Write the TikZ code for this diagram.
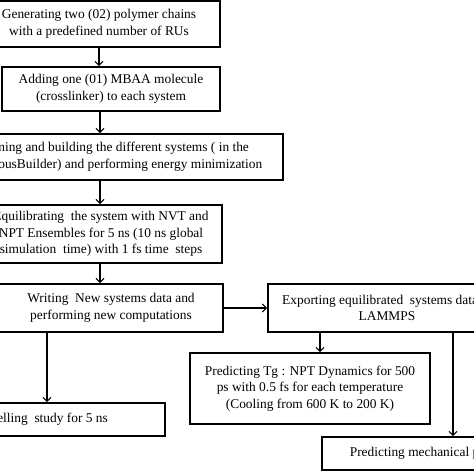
\documentclass[tikz,border=0pt]{standalone}
\usepackage{fontspec}
\setmainfont{Liberation Serif}
\usetikzlibrary{arrows.meta}

\tikzset{
	stepbox/.style={draw=black, line width=1.6pt, align=center, inner sep=0pt,
		font=\fontsize{13.4}{16.6}\selectfont},
	flow/.style={-{Straight Barb[length=4pt,width=8pt]}, line width=1.1pt},
}

\begin{document}
\begin{tikzpicture}[x=1pt,y=-1pt]
	
	\useasboundingbox (0,0) rectangle (474,474);
	\clip (0,0) rectangle (474,474);
	
	\node[stepbox, minimum width=242, minimum height=46] (gen)    at (99, 24)    {Generating two (02) polymer chains\\with a predefined number of RUs};
	\node[stepbox, minimum width=218, minimum height=44] (add)    at (111, 89)   {Adding one (01) MBAA molecule\\(crosslinker) to each system};
	\node[stepbox, minimum width=350, minimum height=46] (design) at (108, 157)  {Designing and building the different systems ( in the\\AmorphousBuilder) and performing energy minimization};
	\node[stepbox, minimum width=242, minimum height=58] (equil)  at (101, 234)  {Equilibrating\ \ the system with NVT and\\NPT Ensembles for 5 ns (10 ns global\\simulation\ \ time)\ with 1 fs time\ \ steps};
	\node[stepbox, minimum width=224, minimum height=48] (write)  at (111, 308)  {Writing\ \ New systems data and\\performing new computations};
	\node[stepbox, minimum width=238, minimum height=48] (export) at (387, 308)  {Exporting equilibrated\ \ systems data to\\LAMMPS};
	\node[stepbox, minimum width=240, minimum height=71] (tg)     at (310, 388.5) {Predicting Tg : NPT Dynamics for 500\\ps with 0.5 fs for each temperature\\(Cooling from 600 K to 200 K)};
	\node[stepbox, minimum width=242, minimum height=33] (swell)  at (44, 419.5)  {Swelling\ \ study for 5 ns};
	\node[stepbox, minimum width=232, minimum height=33] (mech)   at (438, 453.5) {Predicting mechanical properties};
	
	\draw[flow] (gen.south) -- (gen.south |- add.north);
	\draw[flow] ([xshift=-8pt]design.north |- add.south) -- ([xshift=-8pt]design.north);
	\draw[flow] ([xshift=-8pt]design.south) -- ([xshift=-8pt]design.south |- equil.north);
	\draw[flow] ([xshift=-1pt]equil.south) -- ([xshift=-1pt]equil.south |- write.north);
	\draw[flow] (write.east) -- (export.west);
	\draw[flow] ([xshift=10pt]tg.north |- export.south) -- ([xshift=10pt]tg.north);
	\draw[flow] ([xshift=3pt]swell.north |- write.south) -- ([xshift=3pt]swell.north);
	\draw[flow] ([xshift=15pt]mech.north |- export.south) -- ([xshift=15pt]mech.north);

\end{tikzpicture}
\end{document}
